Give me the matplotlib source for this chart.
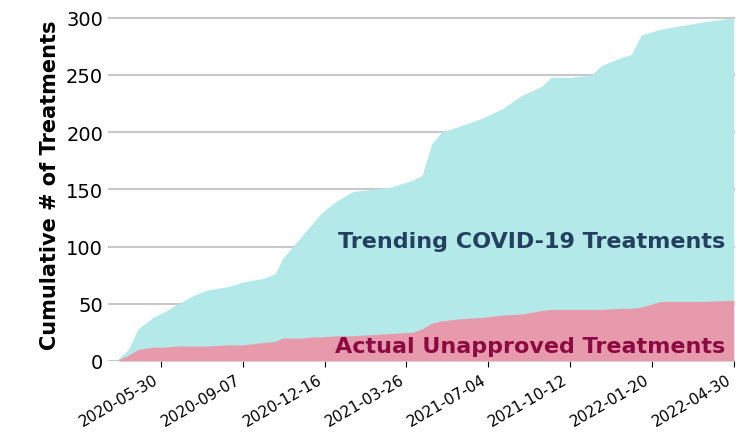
import matplotlib
matplotlib.use("Agg")
import matplotlib.pyplot as plt
import matplotlib.dates as mdates
import pandas as pd

dates = ["2020-04-08","2020-04-20","2020-05-02","2020-05-20","2020-06-01","2020-06-20","2020-07-08",
         "2020-07-26","2020-08-20","2020-09-07","2020-10-01","2020-10-16","2020-10-26","2020-11-07",
         "2020-11-19","2020-12-01","2020-12-13","2020-12-31","2021-01-19","2021-02-12","2021-03-08",
         "2021-04-02","2021-04-14","2021-04-26","2021-05-08","2021-06-02","2021-06-26","2021-07-20",
         "2021-08-14","2021-09-07","2021-09-19","2021-10-14","2021-11-07","2021-11-19","2021-12-13",
         "2021-12-26","2022-01-07","2022-01-31","2022-02-24","2022-03-21","2022-04-30"]
trending = [2,10,28,38,42,50,57,62,65,69,72,76,90,100,110,120,130,140,148,150,152,158,162,190,200,
            206,212,220,232,240,248,248,250,258,265,268,285,290,293,296,300]
actual = [1,5,10,12,12,13,13,13,14,14,16,17,20,20,20,21,21,22,22,23,24,25,28,33,35,37,38,40,41,
          44,45,45,45,45,46,46,47,52,52,52,53]
tick_dates = ["2020-05-30","2020-09-07","2020-12-16","2021-03-26","2021-07-04","2021-10-12",
              "2022-01-20","2022-04-30"]

d = pd.to_datetime(dates)
fig = plt.figure(figsize=(7.39, 4.35), dpi=100)
ax = fig.add_axes([0.146, 0.168, 0.849, 0.81])
ax.fill_between(d, trending, color="#b3e9e9", lw=0)
ax.fill_between(d, actual, color="#e79aab", lw=0)
ax.set_xlim(pd.Timestamp("2020-03-26"), pd.Timestamp("2022-05-02"))
ax.set_ylim(0, 308)
ax.set_yticks([0,50,100,150,200,250,300])
ax.yaxis.grid(True, color="#c8c8c8", lw=1.5)
ax.set_axisbelow(True)
for s in ax.spines.values():
    s.set_visible(False)
ax.set_xticks(pd.to_datetime(tick_dates))
ax.xaxis.set_major_formatter(mdates.DateFormatter("%Y-%m-%d"))
plt.setp(ax.get_xticklabels(), rotation=30, ha="right", fontsize=11)
ax.tick_params(axis="y", labelsize=14, length=0)
ax.tick_params(axis="x", length=4)
ax.set_ylabel("Cumulative # of Treatments", fontsize=15, fontweight="bold")
ax.text(pd.Timestamp("2022-04-20"), 105, "Trending COVID-19 Treatments", ha="right", va="center",
        fontsize=16, fontweight="bold", color="#23405e")
ax.text(pd.Timestamp("2022-04-20"), 13, "Actual Unapproved Treatments", ha="right", va="center",
        fontsize=16, fontweight="bold", color="#8b0a42")
fig.savefig("out.png", dpi=100)
